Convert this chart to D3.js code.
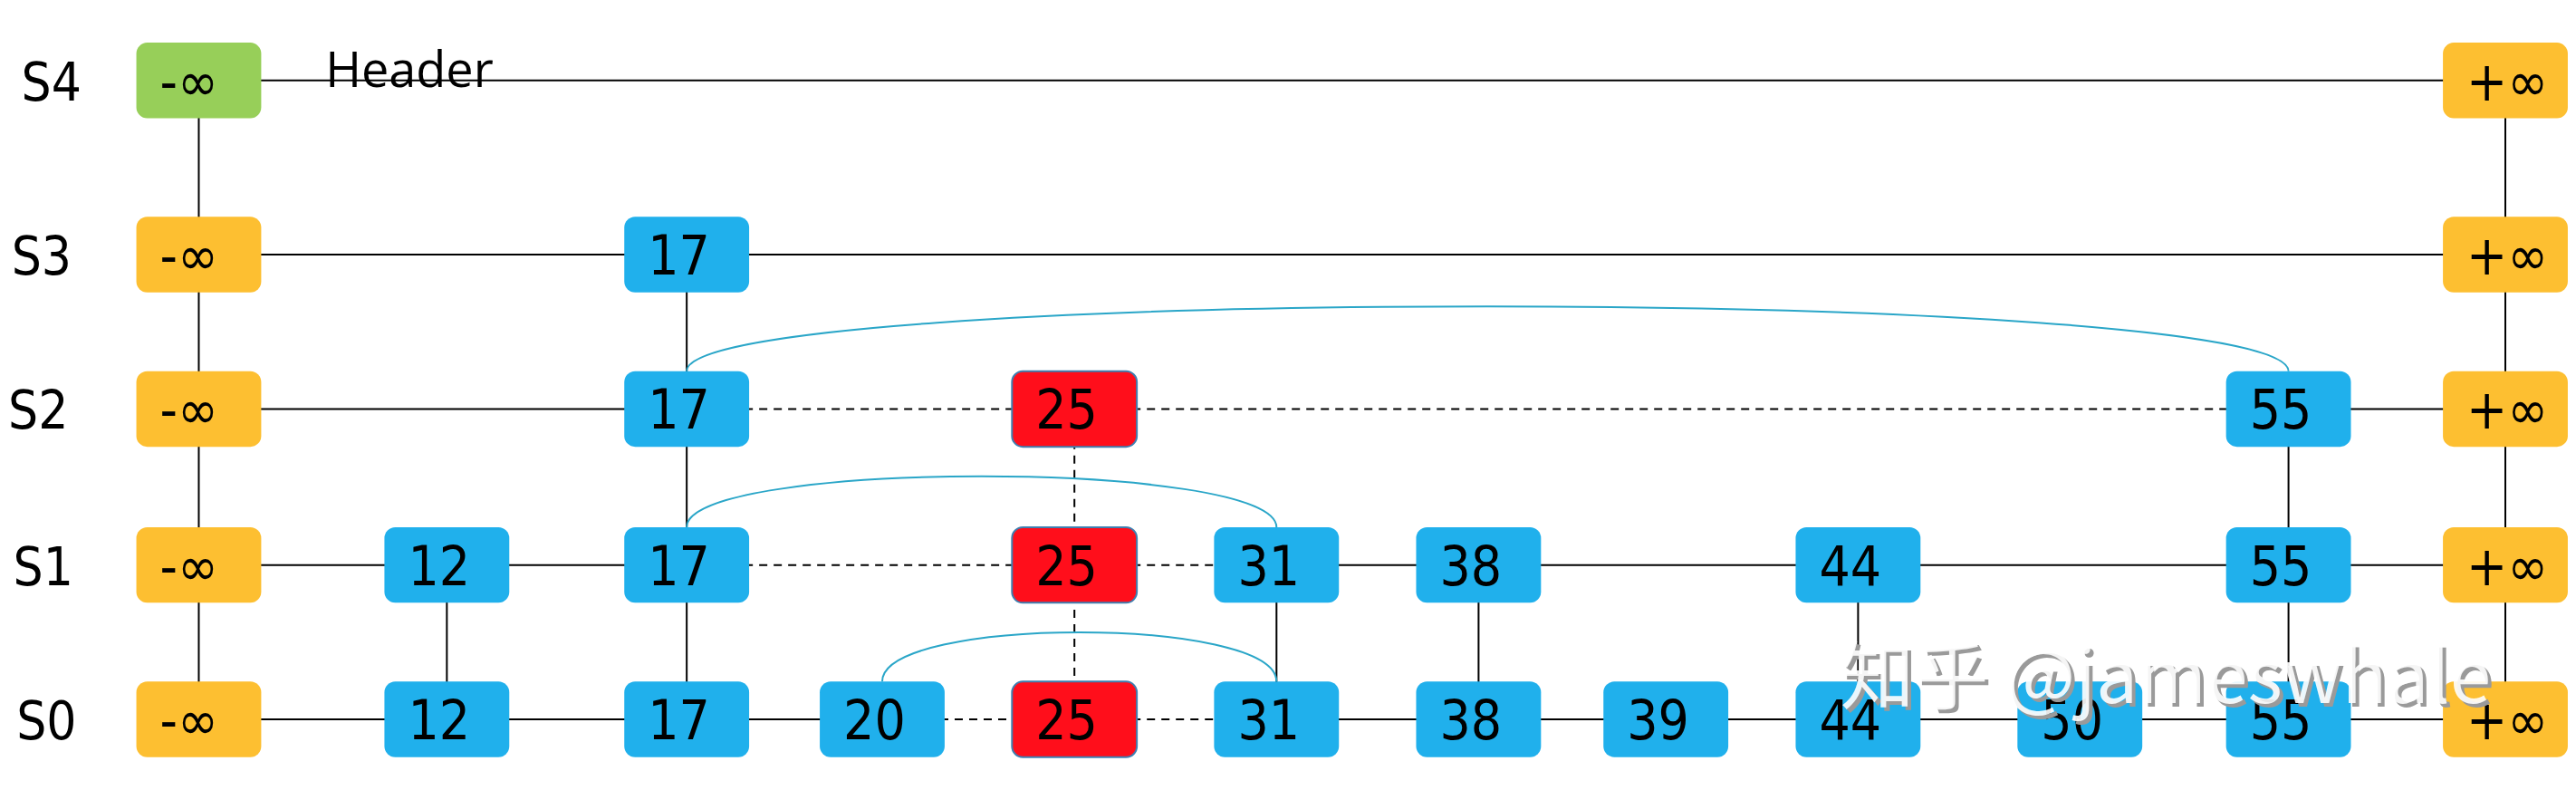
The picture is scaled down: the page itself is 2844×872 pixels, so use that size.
<!DOCTYPE html>
<html>
<head>
<meta charset="utf-8">
<script src="https://cdn.jsdelivr.net/npm/d3@7"></script>
<style>
  body { margin: 0; background: #fff; }
  svg { display: block; font-family: "Open Sans", "Noto Sans", sans-serif; }
</style>
</head>
<body>
<svg id="chart"></svg>
<script>
const W = 2844, H = 872;
// reference units: the picture was read at 1568 x 481
const x = d3.scaleLinear().domain([0, 1568]).range([0, W]);
const y = d3.scaleLinear().domain([0, 481]).range([0, H]);
const k = W / 1568;

// column keys and their horizontal position (reference units)
const keys   = ['-inf', 12, 17, 20, 25, 31, 38, 39, 44, 50, 55, '+inf'];
const colPos = [121, 272, 418, 537, 654, 777, 900, 1014, 1131, 1266, 1393, 1525];
// level labels and vertical position of each level
const levels   = ['S0', 'S1', 'S2', 'S3', 'S4'];
const levelPos = [438, 344, 249, 155, 49];
// which keys exist on each level
const levelKeys = [
  ['-inf', 12, 17, 20, 25, 31, 38, 39, 44, 50, 55, '+inf'],
  ['-inf', 12, 17, 25, 31, 38, 44, 55, '+inf'],
  ['-inf', 17, 25, 55, '+inf'],
  ['-inf', 17, '+inf'],
  ['-inf', '+inf']
];
const newKey = 25;                 // the node being inserted (red, dashed links)
// search path arcs: [level, from, to, peak]
const arcs = [[2, 17, 55, 184], [1, 17, 31, 288], [0, 20, 31, 383]];

const colX = d3.scaleOrdinal().domain(keys).range(colPos);
const lvlY = d3.scaleOrdinal().domain(d3.range(levels.length)).range(levelPos);

const bw = 76, bh = 46;
const svg = d3.select('#chart').attr('width', W).attr('height', H);

function label(key) {
  return key === '-inf' ? '-∞' : key === '+inf' ? '+∞' : String(key);
}
function fill(key, lvl) {
  if (key === newKey) return '#ff0e1b';
  if (key === '-inf' && lvl === 4) return '#97cf59';
  if (key === '-inf' || key === '+inf') return '#fdbf31';
  return '#20b0ec';
}

// horizontal links
const hLinks = [];
levelKeys.forEach((ks, lvl) => {
  for (let i = 0; i < ks.length - 1; i++) {
    hLinks.push({lvl, a: ks[i], b: ks[i + 1], dashed: ks[i] === newKey || ks[i + 1] === newKey});
  }
});
// vertical links
const vLinks = [];
for (let lvl = 0; lvl < levelKeys.length - 1; lvl++) {
  levelKeys[lvl + 1].forEach(key => {
    vLinks.push({key, lvl, dashed: key === newKey});
  });
}

svg.append('g').selectAll('line.h').data(hLinks).join('line')
  .attr('x1', d => x(colX(d.a))).attr('x2', d => x(colX(d.b)))
  .attr('y1', d => y(lvlY(d.lvl))).attr('y2', d => y(lvlY(d.lvl)))
  .attr('stroke', '#000').attr('stroke-width', 2)
  .attr('stroke-dasharray', d => d.dashed ? '9,7' : null);

svg.append('g').selectAll('line.v').data(vLinks).join('line')
  .attr('x1', d => x(colX(d.key))).attr('x2', d => x(colX(d.key)))
  .attr('y1', d => y(lvlY(d.lvl))).attr('y2', d => y(lvlY(d.lvl + 1)))
  .attr('stroke', '#000').attr('stroke-width', 2)
  .attr('stroke-dasharray', d => d.dashed ? '9,7' : null);

// blue search arcs
svg.append('g').selectAll('path').data(arcs).join('path')
  .attr('d', d => {
    const x0 = x(colX(d[1])), x1 = x(colX(d[2]));
    const y0 = y(lvlY(d[0]) - bh / 2), yp = y(d[3]);
    const c = y0 - yp;
    return `M${x0},${y0} C${x0},${yp - c * 0.25} ${x1},${yp - c * 0.25} ${x1},${y0}`;
  })
  .attr('fill', 'none').attr('stroke', '#2aa6c8').attr('stroke-width', 2);

// nodes
const nodes = [];
levelKeys.forEach((ks, lvl) => ks.forEach(key => nodes.push({key, lvl})));
const g = svg.append('g').selectAll('g').data(nodes).join('g')
  .attr('transform', d => `translate(${x(colX(d.key))},${y(lvlY(d.lvl))})`);
g.append('rect')
  .attr('x', -bw * k / 2).attr('y', -bh * k / 2)
  .attr('width', bw * k).attr('height', bh * k)
  .attr('rx', 12).attr('ry', 12)
  .attr('fill', d => fill(d.key, d.lvl))
  .attr('stroke', d => d.key === newKey ? '#3f7fb0' : 'none')
  .attr('stroke-width', 2);
g.append('text')
  .attr('x', -bw * k / 2 + 26).attr('y', 22)
  .attr('font-size', 60)
  .attr('font-family', '"DejaVu Sans Condensed", "Open Sans", sans-serif')
  .attr('fill', '#000')
  .text(d => label(d.key));

// level labels
svg.append('g').selectAll('text').data(levels).join('text')
  .attr('x', (d, i) => x([10, 8, 5, 7, 13][i]))
  .attr('y', (d, i) => y(levelPos[i]) + 22)
  .attr('font-size', 58)
  .attr('font-family', '"DejaVu Sans Condensed", "Open Sans", sans-serif')
  .text(d => d);

svg.append('text')
  .attr('x', x(198)).attr('y', y(53))
  .attr('font-size', 54)
  .text('Header');

// watermark
const wm = svg.append('g').attr('font-size', 82).attr('font-family', '"Noto Sans CJK SC", "Open Sans", sans-serif');
wm.append('text').attr('x', x(1120) + 4).attr('y', y(428) + 4).attr('fill', '#9a9a9a').text('知乎 @jameswhale');
wm.append('text').attr('x', x(1120)).attr('y', y(428)).attr('fill', '#fff').attr('opacity', 0.9).text('知乎 @jameswhale');
</script>
</body>
</html>
